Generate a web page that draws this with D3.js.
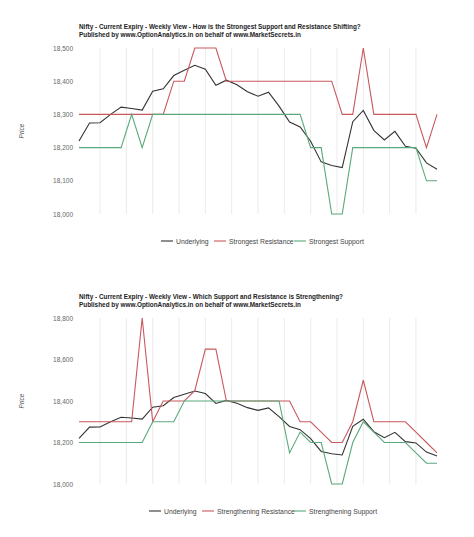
<!DOCTYPE html>
<html><head><meta charset="utf-8">
<script src="https://cdn.jsdelivr.net/npm/d3@7"></script>
<style>body{margin:0;background:#fff;font-family:"Liberation Sans",Arial,sans-serif}</style>
</head><body><svg id="c" width="474" height="537"></svg>
<script>
const underlying=[18220,18274,18275,18300,18322,18318,18313,18370,18377,18417,18433,18448,18436,18388,18403,18389,18368,18355,18367,18325,18277,18262,18219,18157,18146,18140,18278,18312,18252,18223,18249,18204,18198,18154,18135];
const strongestRes=[18300,18300,18300,18300,18300,18300,18300,18300,18300,18400,18400,18500,18500,18500,18400,18400,18400,18400,18400,18400,18400,18400,18400,18400,18400,18300,18300,18500,18300,18300,18300,18300,18300,18200,18300];
const strongestSup=[18200,18200,18200,18200,18200,18300,18200,18300,18300,18300,18300,18300,18300,18300,18300,18300,18300,18300,18300,18300,18300,18300,18200,18200,18000,18000,18200,18200,18200,18200,18200,18200,18200,18100,18100];
const strengthRes=[18300,18300,18300,18300,18300,18300,18800,18300,18400,18400,18400,18450,18650,18650,18400,18400,18400,18400,18400,18400,18400,18300,18300,18250,18200,18200,18300,18500,18300,18300,18300,18300,18250,18200,18150];
const strengthSup=[18200,18200,18200,18200,18200,18200,18200,18300,18300,18300,18400,18400,18400,18400,18400,18400,18400,18400,18400,18400,18150,18250,18200,18200,18000,18000,18200,18300,18250,18200,18200,18200,18150,18100,18100];
const ticksTop=[18000,18100,18200,18300,18400,18500];
const ticksBot=[18000,18200,18400,18600,18800];
const titlesTop=["Nifty - Current Expiry - Weekly View - How is the  Strongest Support and Resistance Shifting?","Published by www.OptionAnalytics.in on behalf of www.MarketSecrets.in"];
const titlesBot=["Nifty - Current Expiry - Weekly View - Which  Support and Resistance is  Strengthening?","Published by www.OptionAnalytics.in on behalf of www.MarketSecrets.in"];
const colors=["#333333","#c9585c","#5aa97c"];
const svg=d3.select("#c");
function chart(oy,titles,dom,ticks,series,names,legX){
  const g=svg.append("g").attr("transform",`translate(0,${oy})`);
  const x=d3.scaleLinear().domain([0,34]).range([79,437]);
  const y=d3.scaleLinear().domain(dom).range([214,48]);
  titles.forEach((t,i)=>g.append("text").attr("x",79).attr("y",29+i*7.5).attr("font-size",6.4).attr("font-weight","600").attr("fill","#222").text(t));
  for(let k=2;k<=32.01;k+=2.5) g.append("line").attr("x1",x(k)).attr("x2",x(k)).attr("y1",48).attr("y2",214).attr("stroke","#e6e6e6").attr("stroke-width",0.8);
  ticks.forEach(t=>g.append("text").attr("x",73).attr("y",y(t)+2.5).attr("text-anchor","end").attr("font-size",6.5).attr("fill","#666").text(d3.format(",")(t)));
  g.append("text").attr("transform",`translate(24,131) rotate(-90)`).attr("text-anchor","middle").attr("font-size",6.5).attr("font-style","italic").attr("fill","#555").text("Price");
  const line=d3.line().x((d,i)=>x(i)).y(d=>y(d));
  series.forEach((s,j)=>g.append("path").datum(s).attr("d",line).attr("fill","none").attr("stroke",colors[j]).attr("stroke-width",1.1));
  legX.forEach((lx,j)=>{
    g.append("line").attr("x1",lx).attr("x2",lx+12).attr("y1",241).attr("y2",241).attr("stroke",colors[j]).attr("stroke-width",1.1);
    g.append("text").attr("x",lx+15).attr("y",243.5).attr("font-size",6.8).attr("fill","#444").text(names[j]);
  });
}
chart(0,titlesTop,[18000,18500],ticksTop,[underlying,strongestRes,strongestSup],["Underlying","Strongest Resistance","Strongest Support"],[161,214,294]);
chart(270,titlesBot,[18000,18800],ticksBot,[underlying,strengthRes,strengthSup],["Underlying","Strengthening Resistance","Strengthening Support"],[149,202,294]);
</script></body></html>
